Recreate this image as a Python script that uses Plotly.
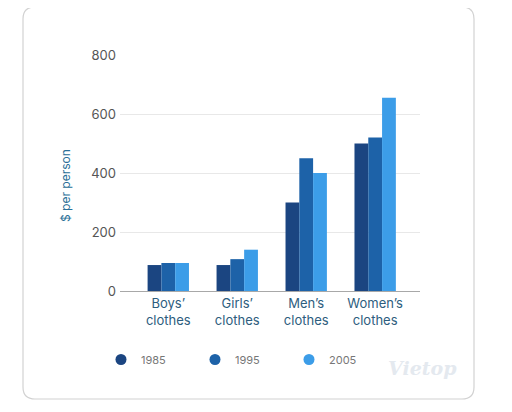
import plotly.graph_objects as go

categories = ["Boys’<br>clothes", "Girls’<br>clothes", "Men’s<br>clothes", "Women’s<br>clothes"]
years = ["1985", "1995", "2005"]
spend_1985 = [88, 88, 300, 500]
spend_1995 = [95, 108, 450, 520]
spend_2005 = [95, 140, 400, 655]
y_ticks = [0, 200, 400, 600, 800]

colors = ["#1b4581", "#1d62a8", "#3c9de8"]
series = [spend_1985, spend_1995, spend_2005]

# page body has an 8px margin, so work in reference pixels minus 8
OFF = 8
W, H = 512 - OFF, 412 - OFF
L, R, T, B = 120 - OFF, 420 - OFF, 55 - OFF, 291 - OFF


def px_x(p):
    return (p - OFF - L) / (R - L)


def px_y(p):
    return (B - (p - OFF)) / (B - T)


fig = go.Figure()
xs = list(range(len(categories)))
for name, vals, col in zip(years, series, colors):
    fig.add_bar(x=xs, y=vals, name=name, marker_color=col, marker_line_width=0,
                showlegend=False)
    # circle legend entry
    fig.add_scatter(x=[None], y=[None], mode="markers", name=name,
                    marker=dict(symbol="circle", size=11, color=col))

# rounded card border
x0, x1, y0, y1, r = px_x(23), px_x(474), px_y(7), px_y(399), 12
rx, ry = r / (R - L), r / (B - T)
path = (f"M {x0+rx},{y0} L {x1-rx},{y0} Q {x1},{y0} {x1},{y0-ry} "
        f"L {x1},{y1+ry} Q {x1},{y1} {x1-rx},{y1} "
        f"L {x0+rx},{y1} Q {x0},{y1} {x0},{y1+ry} "
        f"L {x0},{y0-ry} Q {x0},{y0} {x0+rx},{y0} Z")
fig.add_shape(type="path", path=path, xref="paper", yref="paper",
              line=dict(color="#d2d2d2", width=1.2), layer="below")

fig.add_annotation(text="$ per person", textangle=-90, x=px_x(65), y=px_y(186),
                   xref="paper", yref="paper", xanchor="center", yanchor="middle",
                   showarrow=False, font=dict(size=12, color="#2a6f97"))
fig.add_annotation(text="<i><b>Vietop</b></i>", x=px_x(422), y=px_y(368),
                   xref="paper", yref="paper", xanchor="center", yanchor="middle",
                   showarrow=False,
                   font=dict(size=19, color="#e4e9ef", family="DejaVu Serif"))

fig.update_layout(
    width=W, height=H,
    margin=dict(l=L, r=W - R, t=T, b=H - B),
    paper_bgcolor="white", plot_bgcolor="white",
    barmode="group", bargap=0.4, bargroupgap=0,
    font=dict(family="Inter, Lato, sans-serif", color="#555555"),
    xaxis=dict(range=[-0.7, 3.65], tickmode="array", tickvals=xs, ticktext=categories,
               tickfont=dict(size=13, color="#2d5d7e"), showgrid=False,
               showline=False, zeroline=False, ticks="", ticklabelstandoff=3),
    yaxis=dict(range=[0, 800], tickvals=y_ticks, tickfont=dict(size=13, color="#555555"),
               gridcolor="#e8e8e8", gridwidth=1, zeroline=True, zerolinecolor="#a8a8a8",
               zerolinewidth=1.2, showline=False, ticks="", ticklabelstandoff=3),
    legend=dict(orientation="h", x=px_x(101), y=px_y(345), xanchor="left", yanchor="top",
                font=dict(size=11, color="#777777"), entrywidth=49,
                itemclick=False, bgcolor="rgba(0,0,0,0)"),
)

fig.write_html("out.html")
